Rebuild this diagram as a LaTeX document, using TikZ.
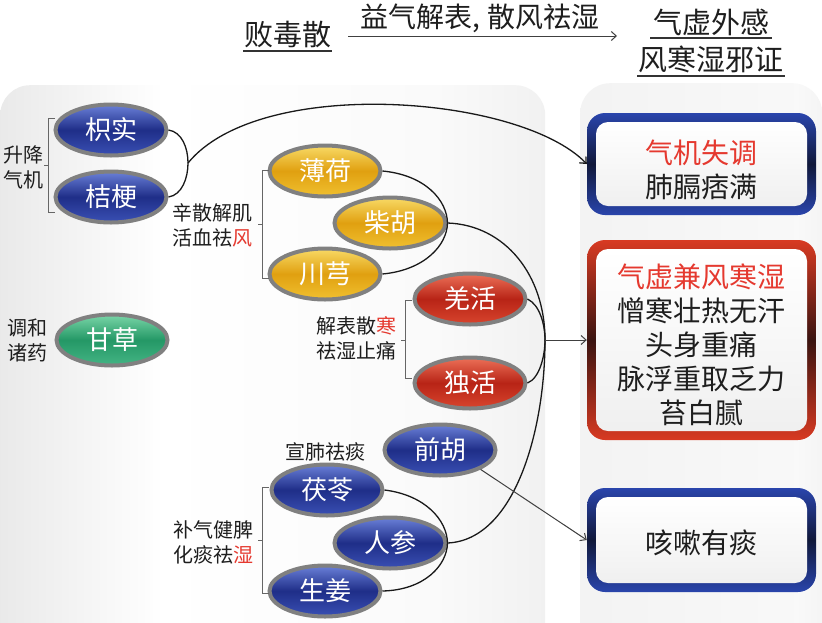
\documentclass[tikz,border=0pt]{standalone}
\usepackage{fontspec}
\setmainfont{Noto Sans CJK SC}
\usetikzlibrary{shapes.geometric,arrows.meta,calc}
\definecolor{tred}{HTML}{E5392F}
\definecolor{txt}{HTML}{1E1E1E}
\definecolor{bbl}{HTML}{2A45AC}
\definecolor{bbd}{HTML}{10183A}
\definecolor{brl}{HTML}{D83A22}
\definecolor{brd}{HTML}{3A1410}
\definecolor{pbT}{HTML}{6A80D8}
\definecolor{pbB}{HTML}{3A50B4}
\definecolor{pbM}{HTML}{1F2E88}
\definecolor{pyT}{HTML}{F8DA66}
\definecolor{pyB}{HTML}{F0C030}
\definecolor{pyM}{HTML}{E0A010}
\definecolor{prT}{HTML}{EC7058}
\definecolor{prB}{HTML}{D8452E}
\definecolor{prM}{HTML}{B82416}
\definecolor{pgT}{HTML}{7AD6A8}
\definecolor{pgB}{HTML}{44B484}
\definecolor{pgM}{HTML}{249866}
\pgfdeclarehorizontalshading{lpanelshade}{100bp}{color(0bp)=(gray!45); color(40bp)=(white); color(65bp)=(gray!4); color(100bp)=(gray!28)}
\pgfdeclarehorizontalshading{rpanelshade}{100bp}{color(0bp)=(gray!40); color(22bp)=(gray!10); color(70bp)=(gray!5); color(100bp)=(gray!24)}
\tikzset{
  pill/.style={ellipse, minimum width=111pt, minimum height=51pt, inner sep=0pt,
    draw=black!50, line width=4pt, text=white, font=\fontsize{26}{26}\selectfont},
  pblue/.style={pill, top color=pbT, bottom color=pbB, middle color=pbM},
  pyellow/.style={pill, top color=pyT, bottom color=pyB, middle color=pyM},
  pred/.style={pill, top color=prT, bottom color=prB, middle color=prM},
  pgreen/.style={pill, top color=pgT, bottom color=pgB, middle color=pgM},
  lab/.style={align=center, text=txt, inner sep=0pt, font=\fontsize{20}{25}\selectfont},
  bracketline/.style={draw=black!60, line width=0.8pt},
  conn/.style={draw=black!90, line width=1.3pt},
  tip/.style={-{Straight Barb[length=5pt,width=9pt]}},
  harrow/.style={draw=black!75, line width=1pt, tip},
  panel/.style={rectangle, rounded corners=30pt, inner sep=0pt, anchor=north west},
  boxblue/.style={rectangle, rounded corners=18pt, inner sep=0pt, minimum width=229pt,
    top color=bbl, bottom color=bbl, middle color=bbd},
  boxred/.style={rectangle, rounded corners=18pt, inner sep=0pt, minimum width=229pt,
    top color=brl, bottom color=brl, middle color=brd},
  boxin/.style={rectangle, rounded corners=12pt, inner sep=0pt, minimum width=211pt,
    top color=white, bottom color=gray!12},
  boxtxt/.style={align=center, text=txt, inner sep=0pt, font=\fontsize{28}{34}\selectfont},
  head/.style={text=txt, inner sep=0pt, font=\fontsize{29}{29}\selectfont},
  uline/.style={draw=black!80, line width=1.3pt}
}
\begin{document}
\begin{tikzpicture}[x=1pt,y=-1pt]
\useasboundingbox (0,0) rectangle (822,622);
\clip (0,0) rectangle (822,622);
\fill[white] (0,0) rectangle (822,622);
% panels
\node[panel, minimum width=545pt, minimum height=600pt, shading=lpanelshade] (lp) at (0,85) {};
\node[panel, minimum width=242pt, minimum height=600pt, shading=rpanelshade] (rp) at (580,83) {};

% header
\node[head] (bds) at (288,35) {败毒散};
\draw[uline] (243,51) -- (332,51);
\coordinate (ha) at (348,36);
\coordinate (hb) at (617,36);
\draw[harrow] (ha) -- (hb);
\node[text=txt, inner sep=0pt, font=\fontsize{28}{28}\selectfont] (hl) at (480,18) {益气解表, 散风祛湿};
\node[head] (r1) at (711,22) {气虚外感};
\draw[uline] (650,38) -- (772,38);
\node[head] (r2) at (711,59) {风寒湿邪证};
\draw[uline] (637,76) -- (785,76);

% right boxes
\node[boxblue, minimum height=102pt] (b1) at (701.5,164) {};
\node[boxin, minimum height=84pt] (b1i) at (b1.center) {};
\node[boxtxt] (t1) at (701.5,170) {\textcolor{tred}{气机失调}\\肺膈痞满};
\node[boxred, minimum height=200pt] (b2) at (701.5,340) {};
\node[boxin, minimum height=182pt] (b2i) at (b2.center) {};
\node[boxtxt] (t2) at (701.5,345) {\textcolor{tred}{气虚兼风寒湿}\\憎寒壮热无汗\\头身重痛\\脉浮重取乏力\\苔白腻};
\node[boxblue, minimum height=104pt] (b3) at (701.5,540) {};
\node[boxin, minimum height=86pt] (b3i) at (b3.center) {};
\node[boxtxt] (t3) at (701.5,543) {咳嗽有痰};

% pills
\node[pblue] (zs) at (111,130) {枳实};
\node[pblue] (jg) at (111,197) {桔梗};
\node[pgreen] (gc) at (112,340) {甘草};
\node[pyellow] (bh) at (325,171) {薄荷};
\node[pyellow] (ch) at (390,223) {柴胡};
\node[pyellow] (cx) at (325,274) {川芎};
\node[pred] (qh) at (470,299) {羌活};
\node[pred] (dh) at (470,383) {独活};
\node[pblue] (qhu) at (440,450) {前胡};
\node[pblue] (fl) at (327,490) {茯苓};
\node[pblue] (rs) at (390,543) {人参};
\node[pblue] (sj) at (325,591) {生姜};

% labels and brackets
\node[lab] (l1) at (24,167) {升降\\气机};
\draw[bracketline] (55,118) -- (48,118) -- (48,212) -- (55,212);
\draw[bracketline] (48,165) -- (44,165);
\node[lab] (l2) at (27,340) {调和\\诸药};
\node[lab] (l3) at (212,225) {辛散解肌\\活血祛\textcolor{tred}{风}};
\draw[bracketline] (269,170) -- (262,170) -- (262,278) -- (269,278);
\draw[bracketline] (262,224) -- (258,224);
\node[lab] (l4) at (356,338) {解表散\textcolor{tred}{寒}\\祛湿止痛};
\draw[bracketline] (412,300) -- (405,300) -- (405,378) -- (412,378);
\draw[bracketline] (405,340) -- (401,340);
\node[lab] (l5) at (325,452) {宣肺祛痰};
\node[lab] (l6) at (213,542) {补气健脾\\化痰祛\textcolor{tred}{湿}};
\draw[bracketline] (269,487) -- (262,487) -- (262,593) -- (269,593);
\draw[bracketline] (262,540) -- (258,540);

% connectors
\coordinate (J1) at (188,163);
\coordinate (J3) at (545,340);
\draw[conn] (zs.east) .. controls (182,132) and (188,148) .. (J1);
\draw[conn] (jg.east) .. controls (182,195) and (188,178) .. (J1);
\draw[conn, tip] (J1) .. controls (260,75) and (520,95) .. (b1.west);
\draw[conn] (bh.east) .. controls (425,175) and (447,200) .. (ch.east);
\draw[conn] (cx.east) .. controls (425,270) and (447,245) .. (ch.east);
\draw[conn] (ch.east) .. controls (505,225) and (545,275) .. (J3);
\draw[conn] (qh.east) .. controls (540,305) and (545,325) .. (J3);
\draw[conn] (dh.east) .. controls (540,378) and (545,355) .. (J3);
\draw[conn] (fl.east) .. controls (425,495) and (447,520) .. (rs.east);
\draw[conn] (sj.east) .. controls (425,590) and (447,565) .. (rs.east);
\draw[conn] (rs.east) .. controls (515,540) and (545,430) .. (J3);
\draw[harrow] (J3) -- (b2.west);
\draw[harrow] (qhu.south east) -- (b3.west);
\end{tikzpicture}
\end{document}
